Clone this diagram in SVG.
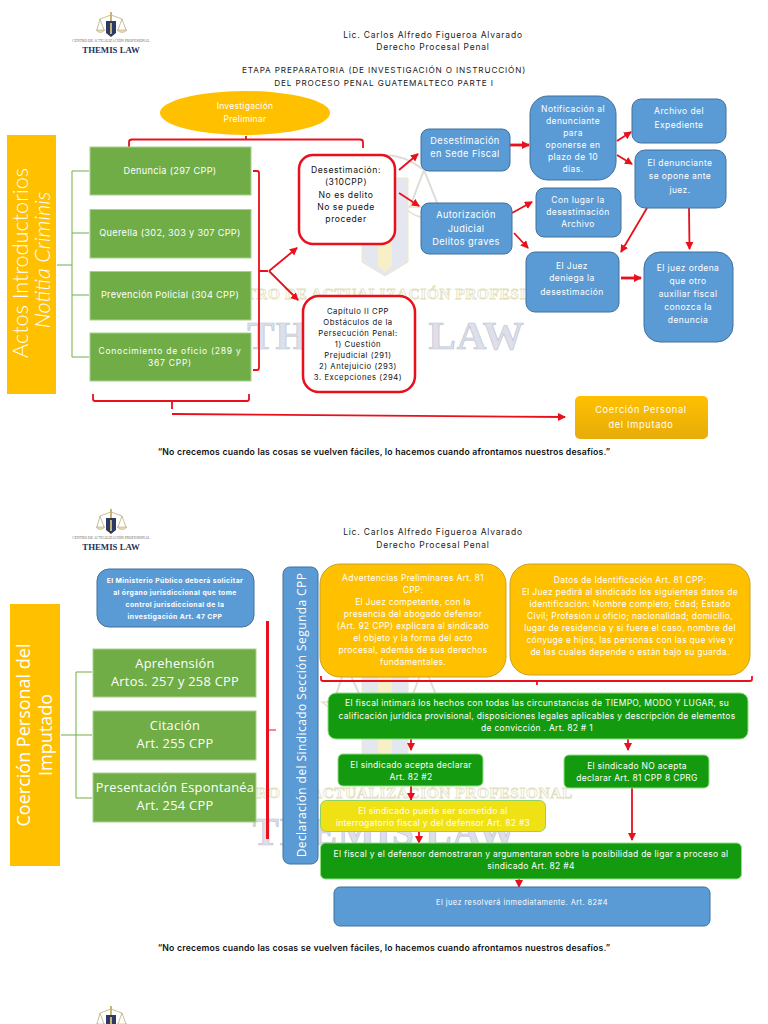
<svg xmlns="http://www.w3.org/2000/svg" width="768" height="1024" viewBox="0 0 768 1024">
<style>
text{font-family:Inter,"Liberation Sans",sans-serif;text-anchor:middle}
.w{fill:#fff;font-size:9.2px;letter-spacing:.3px}
.wc{fill:#fff;font-size:8.5px;letter-spacing:.75px}
.k{fill:#111;font-size:8.6px;letter-spacing:.55px}
.kc{fill:#111;font-size:7.7px;letter-spacing:.55px}
.s{fill:#fff;font-size:8.5px;letter-spacing:.28px}
.blue~text{letter-spacing:.42px}
.m{fill:#fff;font-size:6.8px;font-weight:700;letter-spacing:.3px}
.h{fill:#222;font-size:8.5px;letter-spacing:.8px}
.t{fill:#222;font-size:8.2px;letter-spacing:.85px}
.q{fill:#111;font-size:8.7px;font-weight:600;letter-spacing:.2px}
.o{fill:#fff;font-family:"Open Sans",sans-serif;font-size:12.8px;letter-spacing:.3px}
.d{fill:#fff;font-family:"Open Sans",sans-serif;font-size:12px}
.big{fill:#fff;font-family:"Open Sans",sans-serif;font-size:18px}
.lat{fill:#fff;font-family:Lato,sans-serif;font-weight:300;font-size:21.7px}
.blue{fill:#5B9BD5;stroke:#41719C;stroke-width:1}
.grn{fill:#70AD47;stroke:#A9D18E;stroke-width:1}
.dg{fill:#149A0E;stroke:#8FE07F;stroke-width:1}
.or{fill:#FFC000}
.ab{fill:#FFC000;stroke:#C9A227;stroke-width:1}
.rb{fill:#fff;stroke:#E8101C;stroke-width:2.5}
.c{fill:none;stroke:#E8101C;stroke-width:1.8}
.a{fill:none;stroke:#E8101C;stroke-width:1.8;marker-end:url(#m)}
.a3{fill:none;stroke:#E8101C;stroke-width:2.8;marker-end:url(#m)}
.gl{fill:none;stroke:#70AD47;stroke-width:1}
.wt{font-family:"Liberation Serif",serif;font-weight:700;fill:#fff;stroke:#E3DFBE;stroke-width:.8;font-size:15.5px;letter-spacing:.5px}
.wl{font-family:"Liberation Serif",serif;font-weight:700;fill:#DDE0EA;stroke:#BFC3D2;stroke-width:.7;font-size:41px;letter-spacing:1px}
.ws{fill:none;stroke:#DEDCD8;stroke-width:2}
.lt{font-family:"Liberation Serif",serif;font-weight:700;fill:#26305C;font-size:8.8px}
.ls{font-family:"Liberation Serif",serif;fill:#666;font-size:3.7px}
</style>
<defs>
<marker id="m" markerUnits="userSpaceOnUse" markerWidth="9" markerHeight="9" refX="7" refY="4" orient="auto"><path d="M0 0L8 4L0 8Z" fill="#E8101C"/></marker>
<g id="logo">
<path d="M100 19L111 15L122 19M100 19L97 30M100 19L104 30M122 19L118 30M122 19L126 30" fill="none" stroke="#B9AE7C" stroke-width=".8"/>
<path d="M96 30Q100 35 105 30ZM117 30Q122 35 127 30Z" fill="#E6DFBE" stroke="#A99C66" stroke-width=".5"/>
<path d="M106 21H116V33L111 37L106 33Z" fill="#2E3A66"/>
<path d="M110 12H112V21H110ZM110 23H112V34H110Z" fill="#C9B571"/>
<text class="ls" x="111" y="42">CENTRO DE ACTUALIZACIÓN PROFESIONAL</text>
<text class="lt" x="111" y="52.500">THEMIS LAW</text>
</g>
<g id="wm">
<path class="ws" d="M346 170Q385 140 424 170M424 170L408 212M424 170L438 205M346 170L332 212M346 170L362 205"/>
<path d="M322 207Q345 228 368 207ZM404 207Q425 228 446 207Z" fill="#fff" stroke="#E6E2C6" stroke-width="1.500"/>
<path d="M362 178H408V262L385 276L362 262Z" fill="#E4E7F0" stroke="#EEE9C4" stroke-width="1"/>
<path d="M378 160H392V266L385 272L378 266Z" fill="#F6EFC8"/>
</g>
<linearGradient id="g" x1="0" y1="0" x2="0" y2="1"><stop offset="0" stop-color="#FFC000"/><stop offset="1" stop-color="#E7AC0A"/></linearGradient>
</defs>
<use href="#logo"/>
<use href="#logo" y="497"/>
<use href="#logo" y="994"/>
<g id="headers">
<text class="h" x="433" y="38">Lic. Carlos Alfredo Figueroa Alvarado</text>
<text class="h" x="433" y="50">Derecho Procesal Penal</text>
<text class="t" x="384" y="72.500">ETAPA PREPARATORIA (DE INVESTIGACIÓN O INSTRUCCIÓN)</text>
<text class="t" x="384" y="86">DEL PROCESO PENAL GUATEMALTECO PARTE I</text>
<text class="q" x="384" y="455">“No crecemos cuando las cosas se vuelven fáciles, lo hacemos cuando afrontamos nuestros desafíos.”</text>
<text class="h" x="433" y="535">Lic. Carlos Alfredo Figueroa Alvarado</text>
<text class="h" x="433" y="548">Derecho Procesal Penal</text>
<text class="q" x="384" y="951">“No crecemos cuando las cosas se vuelven fáciles, lo hacemos cuando afrontamos nuestros desafíos.”</text>
</g>
<g id="watermarks">
<use href="#wm"/>
<use href="#wm" y="495"/>
<text class="wt" x="392" y="299">CENTRO DE ACTUALIZACIÓN PROFESIONAL</text>
<text class="wl" x="386" y="349">THEMIS LAW</text>
<text class="wt" x="392" y="798">CENTRO DE ACTUALIZACIÓN PROFESIONAL</text>
<text class="wl" style="font-size:39px" x="385" y="845">THEMIS LAW</text>
</g>
<g id="connectors">
<path class="gl" d="M57 265H72M72 171V357M72 171H89M72 233H89M72 295H89M72 357H89"/>
<path class="c" d="M129 148V142Q129 139.500 132 139.500H360Q363 139.500 363 142V148M246 139.500V136"/>
<path class="c" d="M253 171H257Q259 171 259 173V368Q259 370 257 370H253M259 271H268"/>
<path class="a" d="M269 271L297 248"/>
<path class="a" d="M269 271L298 300"/>
<path class="c" d="M93 394V399Q93 401 95 401H247Q249 401 249 399V394M172 401V409"/>
<path class="a" d="M172 414L565 417"/>
<path class="a" d="M399 170L418 154"/>
<path class="a" d="M399 193L419 206"/>
<path class="a3" d="M510 145H529"/>
<path class="a" d="M617 141L631 132"/>
<path class="a" d="M617 155L632 164"/>
<path class="a" d="M512 213L532 202"/>
<path class="a" d="M514 233L528 248"/>
<path class="a" d="M647 208L621 252"/>
<path class="a" d="M689 208L689.500 249"/>
<path class="a3" d="M621 278H641"/>
<path class="gl" d="M61 735H76M76 672V798M76 672H92M76 735H92M76 798H92"/>
<path fill="none" stroke="#E8101C" stroke-width="3" d="M267.500 621V839"/>
<path fill="none" stroke="#E8101C" stroke-width="1" d="M268 730H276"/>
<path class="c" d="M321 676V679Q321 681 323 681H750Q752 681 752 679V676M537 681V685"/>
<path class="a" d="M411 739V750"/>
<path class="a" d="M628 739V750"/>
<path class="a" d="M411 786V800"/>
<path class="a" d="M419 831V843"/>
<path class="a" d="M632 788V840"/>
<path class="a" d="M519 879V887"/>
</g>
<g id="n-actos"><rect class="or" x="7" y="135" width="49" height="259"/>
<text class="lat" transform="translate(28 263) rotate(-90)">Actos Introductorios</text>
<text class="lat" font-style="italic" transform="translate(50 260) rotate(-90)">Notitia Criminis</text></g>
<g id="n-investigacion"><ellipse class="or" cx="245" cy="113" rx="85" ry="22"/>
<text class="s" x="245" y="109">Investigación</text><text class="s" x="245" y="122">Preliminar</text></g>
<g id="n-denuncia"><rect class="grn" x="90" y="147" width="161" height="48"/><text class="w" x="170" y="174">Denuncia (297 CPP)</text></g>
<g id="n-querella"><rect class="grn" x="90" y="209.500" width="161" height="48.500"/><text class="w" x="170" y="236">Querella (302, 303 y 307 CPP)</text></g>
<g id="n-prevencion"><rect class="grn" x="90" y="271.500" width="161" height="48.500"/><text class="w" x="170" y="298">Prevención Policial (304 CPP)</text></g>
<g id="n-conocimiento"><rect class="grn" x="90" y="333" width="161" height="48"/><text class="wc" x="170" y="354">Conocimiento de oficio (289 y</text><text class="wc" x="170" y="366">367 CPP)</text></g>
<g id="n-desestimacion"><rect class="rb" x="299" y="155" width="96" height="89" rx="14"/>
<text class="k" x="346" y="173">Desestimación:</text><text class="k" x="346" y="185">(310CPP)</text><text class="k" x="346" y="197.500">No es delito</text><text class="k" x="346" y="210">No se puede</text><text class="k" x="346" y="222">proceder</text></g>
<g id="n-capitulo"><rect class="rb" x="303" y="296" width="112" height="96" rx="16"/>
<text class="kc" x="358" y="314">Capítulo II CPP</text><text class="kc" x="358" y="325">Obstáculos de la</text><text class="kc" x="358" y="336">Persecución Penal:</text><text class="kc" x="358" y="347">1) Cuestión</text><text class="kc" x="358" y="358">Prejudicial (291)</text><text class="kc" x="358" y="369">2) Antejuicio (293)</text><text class="kc" x="358" y="380">3. Excepciones (294)</text></g>
<g id="n-coercion1"><rect x="575" y="396" width="133" height="43" rx="5" fill="url(#g)"/><text class="w" style="letter-spacing:.7px" x="641" y="413">Coerción Personal</text><text class="w" style="letter-spacing:.7px" x="641" y="428">del Imputado</text></g>
<g id="n-sede"><rect class="blue" x="421" y="129" width="89" height="42" rx="8"/><text class="w" x="465" y="144">Desestimación</text><text class="w" x="465" y="157">en Sede Fiscal</text></g>
<g id="n-notificacion"><rect class="blue" x="530" y="96" width="86" height="84" rx="18"/><text class="s" x="573" y="112">Notificación al</text><text class="s" x="573" y="124">denunciante</text><text class="s" x="573" y="136">para</text><text class="s" x="573" y="148">oponerse en</text><text class="s" x="573" y="160">plazo de 10</text><text class="s" x="573" y="172">días.</text></g>
<g id="n-archivo"><rect class="blue" x="632" y="99" width="94" height="44" rx="9"/><text class="s" x="679" y="114">Archivo del</text><text class="s" x="679" y="128">Expediente</text></g>
<g id="n-opone"><rect class="blue" x="635" y="150" width="91" height="58" rx="10"/><text class="s" x="680" y="166">El denunciante</text><text class="s" x="680" y="179">se opone ante</text><text class="s" x="680" y="193">juez.</text></g>
<g id="n-conlugar"><rect class="blue" x="536" y="188" width="85" height="49" rx="8"/><text class="s" x="578" y="203">Con lugar la</text><text class="s" x="578" y="215">desestimación</text><text class="s" x="578" y="227">Archivo</text></g>
<g id="n-autorizacion"><rect class="blue" x="421" y="203" width="91" height="51" rx="8"/><text class="w" x="466" y="218">Autorización</text><text class="w" x="466" y="232">Judicial</text><text class="w" x="466" y="245">Delitos graves</text></g>
<g id="n-deniega"><rect class="blue" x="526" y="252" width="93" height="60" rx="9"/><text class="s" x="572" y="269">El Juez</text><text class="s" x="572" y="281">deniega la</text><text class="s" x="572" y="295">desestimación</text></g>
<g id="n-ordena"><rect class="blue" x="644" y="252" width="89" height="90" rx="16"/><text class="s" x="688" y="271">El juez ordena</text><text class="s" x="688" y="284">que otro</text><text class="s" x="688" y="297">auxiliar fiscal</text><text class="s" x="688" y="310">conozca la</text><text class="s" x="688" y="323">denuncia</text></g>
<g id="n-coercion2"><rect class="or" x="10" y="604" width="50" height="262"/>
<text class="big" transform="translate(30 735) rotate(-90)">Coerción Personal del</text>
<text class="big" transform="translate(52 735) rotate(-90)">Imputado</text></g>
<g id="n-ministerio"><rect class="blue" x="97" y="569" width="157" height="58" rx="12"/>
<text class="m" x="175" y="583">El Ministerio Público deberá solicitar</text><text class="m" x="175" y="595">al órgano jurisdiccional que tome</text><text class="m" x="175" y="607">control jurisdiccional de la</text><text class="m" x="175" y="619">investigación Art. 47 CPP</text></g>
<g id="n-aprehension"><rect class="grn" x="93" y="649" width="163" height="48"/><text class="o" x="175" y="668">Aprehensión</text><text class="o" x="175" y="686">Artos. 257 y 258 CPP</text></g>
<g id="n-citacion"><rect class="grn" x="93" y="711" width="163" height="49"/><text class="o" x="175" y="730">Citación</text><text class="o" x="175" y="748">Art. 255 CPP</text></g>
<g id="n-presentacion"><rect class="grn" x="93" y="773" width="163" height="49"/><text class="o" x="175" y="792">Presentación Espontanéa</text><text class="o" x="175" y="810">Art. 254 CPP</text></g>
<g id="n-declaracion"><rect class="blue" x="283" y="567" width="35" height="297" rx="7"/><text class="d" transform="translate(306 715) rotate(-90)">Declaración del Sindicado Sección Segunda CPP</text></g>
<g id="n-advertencias"><rect class="ab" x="320" y="564" width="186" height="113" rx="20"/>
<text class="s" x="413" y="581">Advertencias Preliminares Art. 81</text><text class="s" x="413" y="593">CPP:</text><text class="s" x="413" y="605">El Juez competente, con la</text><text class="s" x="413" y="617">presencia del abogado defensor</text><text class="s" x="413" y="629">(Art. 92 CPP) explicara al sindicado</text><text class="s" x="413" y="641">el objeto y la forma del acto</text><text class="s" x="413" y="653">procesal, además de sus derechos</text><text class="s" x="413" y="665">fundamentales.</text></g>
<g id="n-datos"><rect class="ab" x="510" y="564" width="240" height="111" rx="20"/>
<text class="s" x="630" y="583">Datos de Identificación Art. 81 CPP:</text><text class="s" x="630" y="595">El Juez pedirá al sindicado los siguientes datos de</text><text class="s" x="630" y="607">identificación: Nombre completo; Edad; Estado</text><text class="s" x="630" y="619">Civil; Profesión u oficio; nacionalidad; domicilio,</text><text class="s" x="630" y="631">lugar de residencia y si fuere el caso, nombre del</text><text class="s" x="630" y="643">cónyuge e hijos, las personas con las que vive y</text><text class="s" x="630" y="655">de las cuales depende o están bajo su guarda.</text></g>
<g id="n-intimara"><rect class="dg" x="328" y="693" width="420" height="46" rx="8"/>
<text class="s" x="537" y="706">El fiscal intimará los hechos con todas las circunstancias de TIEMPO, MODO Y LUGAR, su</text><text class="s" x="537" y="718.500">calificación jurídica provisional, disposiciones legales aplicables y descripción de elementos</text><text class="s" x="537" y="731">de convicción . Art. 82 # 1</text></g>
<g id="n-acepta"><rect class="dg" x="338" y="754" width="145" height="32" rx="5"/><text class="s" x="411" y="768">El sindicado acepta declarar</text><text class="s" x="411" y="780">Art. 82 #2</text></g>
<g id="n-noacepta"><rect class="dg" x="564" y="755" width="145" height="33" rx="5"/><text class="s" x="637" y="769">El sindicado NO acepta</text><text class="s" x="637" y="781">declarar Art. 81 CPP 8 CPRG</text></g>
<g id="n-sometido"><rect x="320.500" y="800.500" width="225" height="31" rx="6" fill="#F0E114" stroke="#8FD06A"/><text class="s" x="433" y="814">El sindicado puede ser sometido al</text><text class="s" x="433" y="826">interrogatorio fiscal y del defensor Art. 82 #3</text></g>
<g id="n-demostraran"><rect class="dg" x="320.500" y="843" width="421" height="36" rx="5"/><text class="s" x="531" y="857">El fiscal y el defensor demostraran y argumentaran sobre la posibilidad de ligar a proceso al</text><text class="s" x="531" y="869">sindicado Art. 82 #4</text></g>
<g id="n-resolvera"><rect class="blue" x="334" y="887" width="376" height="39" rx="6"/><text class="s" style="font-size:7.4px;letter-spacing:.45px" x="522" y="905">El juez resolverá inmediatamente. Art. 82#4</text></g>
</svg>
